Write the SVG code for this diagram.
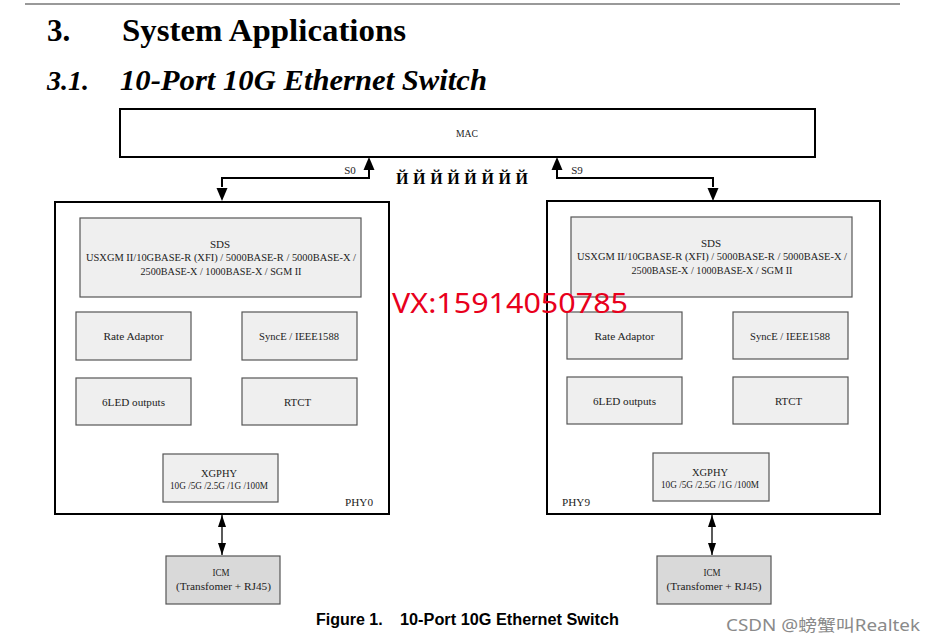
<svg xmlns="http://www.w3.org/2000/svg" width="936" height="644" viewBox="0 0 936 644">
<style>
.h{font-family:"Liberation Serif",serif;font-weight:bold;fill:#000}
.s{font-family:"Liberation Serif",serif;font-size:11px;fill:#222;text-anchor:middle}
.outer{fill:#fff;stroke:#000;stroke-width:2}
.inner{fill:#efefef;stroke:#555;stroke-width:1.2}
.icm{fill:#d9d9d9;stroke:#555;stroke-width:1.2}
.conn{fill:none;stroke:#000;stroke-width:2}
.thin{fill:none;stroke:#000;stroke-width:1.3}
</style>
<defs>
<marker id="ahs" viewBox="0 0 12 8" refX="12" refY="4" markerWidth="12" markerHeight="8" markerUnits="userSpaceOnUse" orient="auto-start-reverse"><path d="M0,0 L12,4 L0,8 Z" fill="#000"/></marker>
</defs>
<rect width="936" height="644" fill="#fff"/>
<line x1="25" y1="4" x2="900" y2="4" stroke="#999" stroke-width="2"/>
<text class="h" x="47" y="41" font-size="31">3.</text>
<text class="h" x="122" y="41" font-size="31" textLength="284" lengthAdjust="spacingAndGlyphs">System Applications</text>
<text class="h" x="47" y="90" font-size="28" font-style="italic">3.1.</text>
<text class="h" x="120" y="90" font-size="29" font-style="italic" textLength="367" lengthAdjust="spacingAndGlyphs">10-Port 10G Ethernet Switch</text>

<g id="mac">
<rect class="outer" x="120" y="109" width="695" height="48"/>
<text class="s" x="467" y="137" textLength="22" lengthAdjust="spacingAndGlyphs">MAC</text>
</g>

<g id="connectors">
<polyline class="conn" points="222,187 222,178 369,178 369,169"/>
<path d="M369,157 L363.5,170 L374.5,170 Z" fill="#000"/>
<path d="M222,201 L216.5,188 L227.5,188 Z" fill="#000"/>
<polyline class="conn" points="713,187 713,178 557,178 557,169"/>
<path d="M557,157 L551.5,170 L562.5,170 Z" fill="#000"/>
<path d="M713,201 L707.5,188 L718.5,188 Z" fill="#000"/>
<line class="thin" x1="222" y1="515" x2="222" y2="555" marker-start="url(#ahs)" marker-end="url(#ahs)"/>
<line class="thin" x1="712" y1="515" x2="712" y2="555" marker-start="url(#ahs)" marker-end="url(#ahs)"/>
<text class="s" x="350" y="174">S0</text>
<text class="s" x="577" y="174">S9</text>
<text class="h" x="396" y="184" font-size="16" textLength="132">ЙЙЙЙЙЙЙЙ</text>
</g>

<g id="phy0">
<rect class="outer" x="55" y="202" width="334" height="312"/>
<text class="s" x="345" y="506" style="text-anchor:start" textLength="28" lengthAdjust="spacingAndGlyphs">PHY0</text>
</g>
<g id="sds0">
<rect class="inner" x="80" y="218" width="281" height="79"/>
<text class="s" x="220" y="248">SDS</text>
<text class="s" x="221" y="261" textLength="270" lengthAdjust="spacingAndGlyphs">USXGM II/10GBASE-R (XFI) / 5000BASE-R / 5000BASE-X /</text>
<text class="s" x="221" y="275" textLength="161" lengthAdjust="spacingAndGlyphs">2500BASE-X / 1000BASE-X / SGM II</text>
</g>
<g id="rate0"><rect class="inner" x="76" y="312" width="115" height="48"/><text class="s" x="133.5" y="340" textLength="60" lengthAdjust="spacingAndGlyphs">Rate Adaptor</text></g>
<g id="sync0"><rect class="inner" x="242" y="312" width="115" height="48"/><text class="s" x="299" y="340" textLength="80" lengthAdjust="spacingAndGlyphs">SyncE / IEEE1588</text></g>
<g id="led0"><rect class="inner" x="76" y="378" width="115" height="47"/><text class="s" x="133.5" y="406" textLength="63" lengthAdjust="spacingAndGlyphs">6LED outputs</text></g>
<g id="rtct0"><rect class="inner" x="242" y="378" width="115" height="47"/><text class="s" x="297.5" y="406" textLength="27" lengthAdjust="spacingAndGlyphs">RTCT</text></g>
<g id="xgphy0"><rect class="inner" x="163" y="454" width="115" height="48"/><text class="s" x="219" y="477" textLength="36" lengthAdjust="spacingAndGlyphs">XGPHY</text><text class="s" x="219" y="489" textLength="98" lengthAdjust="spacingAndGlyphs">10G /5G /2.5G /1G /100M</text></g>
<g id="icm0"><rect class="icm" x="166" y="556" width="114" height="48"/><text class="s" x="221" y="576" textLength="17" lengthAdjust="spacingAndGlyphs">ICM</text><text class="s" x="223.5" y="590" textLength="95" lengthAdjust="spacingAndGlyphs">(Transfomer + RJ45)</text></g>

<g id="phy9">
<rect class="outer" x="547" y="201" width="333" height="313"/>
<text class="s" x="562" y="506" style="text-anchor:start" textLength="28" lengthAdjust="spacingAndGlyphs">PHY9</text>
</g>
<g id="sds9">
<rect class="inner" x="571" y="217" width="281" height="80"/>
<text class="s" x="711" y="247">SDS</text>
<text class="s" x="712" y="260" textLength="270" lengthAdjust="spacingAndGlyphs">USXGM II/10GBASE-R (XFI) / 5000BASE-R / 5000BASE-X /</text>
<text class="s" x="712" y="274" textLength="161" lengthAdjust="spacingAndGlyphs">2500BASE-X / 1000BASE-X / SGM II</text>
</g>
<g id="rate9"><rect class="inner" x="567" y="312" width="115" height="47"/><text class="s" x="624.5" y="340" textLength="60" lengthAdjust="spacingAndGlyphs">Rate Adaptor</text></g>
<g id="sync9"><rect class="inner" x="733" y="312" width="115" height="47"/><text class="s" x="790" y="340" textLength="80" lengthAdjust="spacingAndGlyphs">SyncE / IEEE1588</text></g>
<g id="led9"><rect class="inner" x="567" y="377" width="115" height="47"/><text class="s" x="624.5" y="405" textLength="63" lengthAdjust="spacingAndGlyphs">6LED outputs</text></g>
<g id="rtct9"><rect class="inner" x="733" y="377" width="115" height="47"/><text class="s" x="788.5" y="405" textLength="27" lengthAdjust="spacingAndGlyphs">RTCT</text></g>
<g id="xgphy9"><rect class="inner" x="653" y="453" width="116" height="48"/><text class="s" x="710" y="476" textLength="36" lengthAdjust="spacingAndGlyphs">XGPHY</text><text class="s" x="710" y="488" textLength="98" lengthAdjust="spacingAndGlyphs">10G /5G /2.5G /1G /100M</text></g>
<g id="icm9"><rect class="icm" x="657" y="556" width="114" height="48"/><text class="s" x="712" y="576" textLength="17" lengthAdjust="spacingAndGlyphs">ICM</text><text class="s" x="714" y="590" textLength="95" lengthAdjust="spacingAndGlyphs">(Transfomer + RJ45)</text></g>

<text x="316" y="625" font-family="Liberation Sans,Arial,sans-serif" font-weight="bold" font-size="16" fill="#000">Figure 1.</text>
<text x="400" y="625" font-family="Liberation Sans,Arial,sans-serif" font-weight="bold" font-size="16" fill="#000" textLength="219" lengthAdjust="spacingAndGlyphs">10-Port 10G Ethernet Switch</text>
<text x="392" y="313" font-family="Noto Sans,sans-serif" font-size="28" fill="#e8001c" textLength="236" lengthAdjust="spacingAndGlyphs">VX:15914050785</text>
<text x="726" y="631" font-family="Noto Sans,Noto Sans CJK SC,sans-serif" font-size="16" fill="#8a8a8a" textLength="194" lengthAdjust="spacingAndGlyphs">CSDN @螃蟹叫Realtek</text>
</svg>
